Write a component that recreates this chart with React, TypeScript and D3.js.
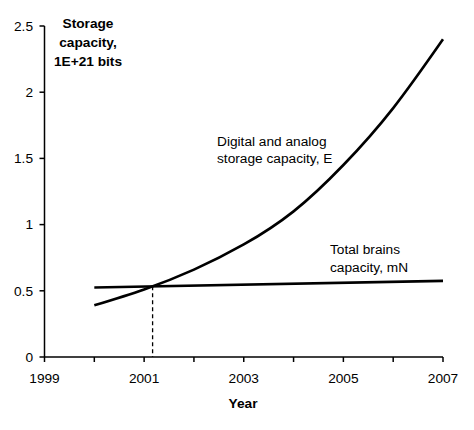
import React, { useEffect, useRef } from 'react';
import * as d3 from 'd3';

// Digital and analog storage capacity, E (1E+21 bits)
const storageYears = [2000, 2001, 2002, 2003, 2004, 2005, 2006, 2007];
const storageValues = [0.39, 0.51, 0.66, 0.85, 1.1, 1.45, 1.88, 2.4];

// Total brains capacity, mN
const brainYears = [2000, 2007];
const brainValues = [0.525, 0.575];

// crossover where storage overtakes brains
const crossYear = 2001.17;
const crossValue = 0.535;

const xTickYears = [1999, 2000, 2001, 2002, 2003, 2004, 2005, 2006, 2007];
const xLabelYears = [1999, 2001, 2003, 2005, 2007];
const yTicks = [0, 0.5, 1, 1.5, 2, 2.5];

const WIDTH = 474;
const HEIGHT = 430;
const FONT = '"Liberation Sans", Arial, sans-serif';

function StorageChart() {
  const ref = useRef<SVGSVGElement | null>(null);

  useEffect(() => {
    const svg = d3.select(ref.current);
    svg.selectAll('*').remove();

    const x = d3.scaleLinear().domain([1999, 2007]).range([44.5, 443]);
    const y = d3.scaleLinear().domain([0, 2.5]).range([357, 26]);

    const axis = svg.append('g').attr('stroke', '#000').attr('stroke-width', 1.5);

    // y axis with outward ticks
    axis.append('line').attr('x1', x(1999)).attr('x2', x(1999)).attr('y1', y(0)).attr('y2', y(2.5));
    axis.selectAll('.ytick')
      .data(yTicks)
      .join('line')
      .attr('x1', x(1999) - 5)
      .attr('x2', x(1999))
      .attr('y1', d => y(d))
      .attr('y2', d => y(d));

    // x axis, a tick every year
    axis.append('line').attr('x1', x(1999)).attr('x2', x(2007)).attr('y1', y(0)).attr('y2', y(0));
    axis.selectAll('.xtick')
      .data(xTickYears)
      .join('line')
      .attr('x1', d => x(d))
      .attr('x2', d => x(d))
      .attr('y1', y(0))
      .attr('y2', y(0) + 5);

    const text = svg.append('g').attr('font-family', FONT).attr('font-size', 13.7).attr('fill', '#000');

    text.selectAll('.ylab')
      .data(yTicks)
      .join('text')
      .attr('x', 33)
      .attr('y', d => y(d))
      .attr('dy', '0.35em')
      .attr('text-anchor', 'end')
      .text(d => String(d));

    text.selectAll('.xlab')
      .data(xLabelYears)
      .join('text')
      .attr('x', d => x(d))
      .attr('y', 378)
      .attr('dy', '0.35em')
      .attr('text-anchor', 'middle')
      .text(d => String(d));

    text.append('text')
      .attr('x', 243)
      .attr('y', 403)
      .attr('dy', '0.35em')
      .attr('text-anchor', 'middle')
      .attr('font-weight', 'bold')
      .text('Year');

    const title = text.append('text')
      .attr('text-anchor', 'middle')
      .attr('font-weight', 'bold');
    ['Storage', 'capacity,', '1E+21 bits'].forEach((s, i) => {
      title.append('tspan').attr('x', 88).attr('y', 23 + i * 19).attr('dy', '0.35em').text(s);
    });

    const labelE = text.append('text');
    ['Digital and analog', 'storage capacity, E'].forEach((s, i) => {
      labelE.append('tspan').attr('x', 217).attr('y', 141 + i * 17.5).attr('dy', '0.35em').text(s);
    });

    const labelN = text.append('text');
    ['Total brains', 'capacity, mN'].forEach((s, i) => {
      labelN.append('tspan').attr('x', 330).attr('y', 249 + i * 18).attr('dy', '0.35em').text(s);
    });

    // dashed drop line at the crossover
    svg.append('line')
      .attr('x1', x(crossYear))
      .attr('x2', x(crossYear))
      .attr('y1', y(crossValue))
      .attr('y2', y(0))
      .attr('stroke', '#000')
      .attr('stroke-width', 1.3)
      .attr('stroke-dasharray', '4,3');

    const line = d3.line<[number, number]>()
      .x(d => x(d[0]))
      .y(d => y(d[1]))
      .curve(d3.curveNatural);

    svg.append('path')
      .datum(storageYears.map((yr, i) => [yr, storageValues[i]] as [number, number]))
      .attr('d', line)
      .attr('fill', 'none')
      .attr('stroke', '#000')
      .attr('stroke-width', 2.6);

    svg.append('path')
      .datum(brainYears.map((yr, i) => [yr, brainValues[i]] as [number, number]))
      .attr('d', line)
      .attr('fill', 'none')
      .attr('stroke', '#000')
      .attr('stroke-width', 2.6);
  }, []);

  return <svg ref={ref} width={WIDTH} height={HEIGHT} style={{ position: 'absolute', left: 0, top: 0, background: '#fff' }} />;
}

export default function App() {
  return <StorageChart />;
}
